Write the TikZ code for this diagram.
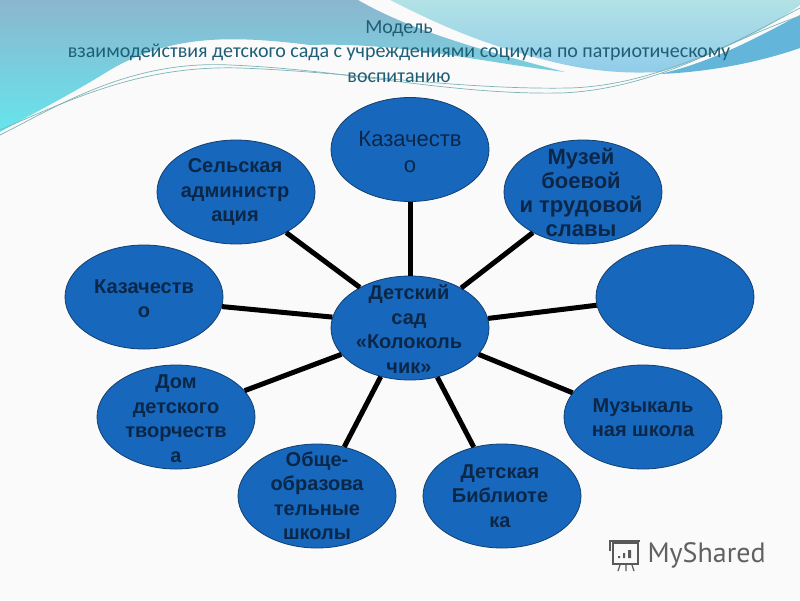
\documentclass[tikz,border=0pt]{standalone}
\usepackage{fontspec}
\setmainfont{Liberation Sans}
\newfontfamily\titlefont{Carlito}
\newfontfamily\markfont{PT Sans}
\definecolor{nodeblue}{HTML}{1767BD}
\definecolor{nodeedge}{HTML}{123F6E}
\definecolor{nodetext}{HTML}{0B2748}
\definecolor{titletext}{HTML}{1E5E76}
\definecolor{wavetopl}{HTML}{8CB6CF}
\definecolor{wavebotl}{HTML}{66E5EC}
\definecolor{wavetopr}{HTML}{B2E2E5}
\definecolor{wavebotr}{HTML}{8FCBEA}
\definecolor{waveband}{HTML}{63B6D9}
\definecolor{waveline}{HTML}{7FB3B5}
\definecolor{paper}{HTML}{FAFAFA}
\tikzset{
  bub/.style={ellipse,draw=nodeedge,line width=0.8pt,fill=nodeblue,minimum width=158pt,minimum height=104pt,inner sep=0pt},
  lblb/.style={align=center,text=nodetext,font=\fontsize{20}{24.5}\selectfont\bfseries},
  lblm/.style={align=center,text=nodetext,font=\fontsize{22}{24}\selectfont\bfseries},
  lbln/.style={align=center,text=nodetext,font=\fontsize{22}{26}\selectfont},
  spoke/.style={line width=5pt,black},
  titl/.style={align=center,text=titletext,font=\titlefont\fontsize{20}{24.5}\selectfont}
}
\usetikzlibrary{shapes.geometric}
\begin{document}
\begin{tikzpicture}[x=1pt,y=-1pt]
\useasboundingbox (0,0) rectangle (800,600);
\fill[paper] (0,0) rectangle (800,600);
% background waves
\shade[top color=wavetopl,bottom color=wavebotl]
  (0,0) -- (358,0) .. controls (410,30) and (480,50) .. (565,72)
  .. controls (480,62) and (400,42) .. (310,45)
  .. controls (230,35) and (170,35) .. (110,70)
  .. controls (70,95) and (30,115) .. (0,132) -- cycle;
\shade[top color=wavetopr,bottom color=wavebotr]
  (390,0) -- (800,0) -- (800,5) .. controls (760,35) and (700,60) .. (660,72)
  .. controls (600,75) and (560,65) .. (510,50) .. controls (460,35) and (420,15) .. (390,0) -- cycle;
\fill[waveband]
  (660,74) .. controls (720,60) and (770,30) .. (800,15) -- (800,48) .. controls (760,62) and (710,72) .. (660,74) -- cycle;
\draw[waveline,line width=0.7pt]
  (0,135) .. controls (60,105) and (130,60) .. (230,65) .. controls (350,70) and (450,95) .. (560,93)
  .. controls (650,90) and (730,45) .. (800,8);
\draw[waveline,line width=0.7pt]
  (0,130) .. controls (70,100) and (140,65) .. (240,68) .. controls (350,72) and (460,90) .. (570,88)
  .. controls (660,85) and (730,40) .. (800,16);
% title
\node[titl] (title) at (399,51.5) {Модель\\взаимодействия детского сада с учреждениями социума по патриотическому\\воспитанию};
% bubbles
\node[bub] (centre) at (410,328) {};
\node[bub] (top) at (410,149.5) {};
\node[bub] (museum) at (583,192) {};
\node[bub] (blank) at (675,297) {};
\node[bub] (music) at (643,417) {};
\node[bub] (library) at (502,496) {};
\node[bub] (school) at (317,496) {};
\node[bub] (house) at (176,417) {};
\node[bub] (cossack) at (144,297) {};
\node[bub] (admin) at (236,192) {};
% spokes
\draw[spoke] (centre.90) -- (top.270);
\draw[spoke] (centre.38.7) -- (museum.219);
\draw[spoke] (centre.7.3) -- (blank.186);
\draw[spoke] (centre.-21.6) -- (music.161);
\draw[spoke] (centre.-61.6) -- (library.120);
\draw[spoke] (centre.-121) -- (school.61);
\draw[spoke] (centre.201) -- (house.21);
\draw[spoke] (centre.172.7) -- (cossack.-7);
\draw[spoke] (centre.141.3) -- (admin.-39.5);
% labels
\node[lblb] (tcentre) at (409,329) {Детский\\сад\\«Колоколь\\чик»};
\node[lbln] (ttop) at (410,152) {Казачеств\\о};
\node[lblm] (tmuseum) at (581,192) {Музей\\боевой\\и трудовой\\славы};
\node[lblb] (tmusic) at (643,417.5) {Музыкаль\\ная школа};
\node[lblb] (tlibrary) at (500,496) {Детская\\Библиоте\\ка};
\node[lblb] (tschool) at (317,496) {Обще-\\образова\\тельные\\школы};
\node[lblb] (thouse) at (176,418.5) {Дом\\детского\\творчеств\\а};
\node[lblb] (tcossack) at (144,298.5) {Казачеств\\о};
\node[lblb] (tadmin) at (235,192.5) {Сельская\\администр\\ация};
% watermark
\node[text=black!62,font=\markfont\fontsize{28}{30}\selectfont,anchor=west] (mark) at (644,555) {MyShared};
\draw[black!65,line width=1.6pt] (613,543) rectangle (638,564);
\draw[black!65,line width=1.6pt] (610,551) -- (610,541) -- (640,541);
\draw[black!65,line width=1.2pt] (620,565) -- (618,571) (626,565) -- (626,571) (632,565) -- (634,571);
\fill[black!65] (618,556) rectangle +(2,2) (623,553) rectangle +(2,5) (628,550) rectangle +(3,8);
\end{tikzpicture}
\end{document}
